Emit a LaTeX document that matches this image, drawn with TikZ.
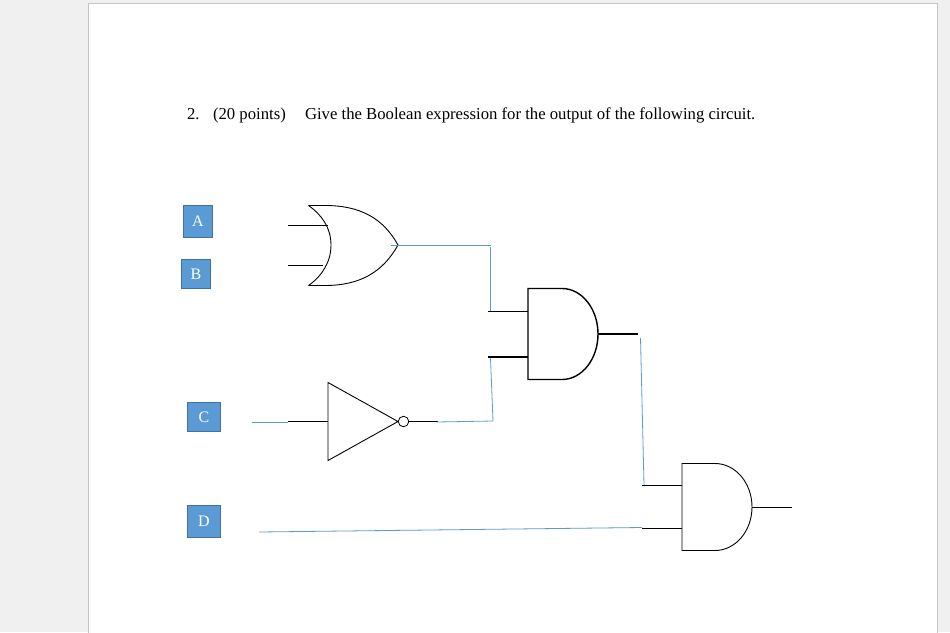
\documentclass[tikz,border=0pt]{standalone}
\usepackage{fontspec}
\setmainfont{Liberation Serif}
\usepackage{tikz}
\definecolor{pagegray}{HTML}{F0F0F0}
\definecolor{pageedge}{HTML}{C6C6C6}
\definecolor{boxblue}{HTML}{5B9BD5}
\definecolor{boxedge}{HTML}{41719C}
\begin{document}
\begin{tikzpicture}[x=1pt, y=-1pt, line join=miter]
\tikzstyle{every node} = [inner sep=0pt, outer sep=0pt]
\tikzstyle{inbox} = [draw=boxedge, fill=boxblue, text=white, font=\fontsize{16}{16}\selectfont, line width=.8pt]
\tikzstyle{wire} = [line width=.9pt, black]
\tikzstyle{bluewire} = [line width=.8pt, boxblue]
\tikzstyle{gate} = [line width=.9pt, black]
\tikzstyle{headline} = [anchor=base west, font=\fontsize{16.7}{16.7}\selectfont, text=black]
\useasboundingbox (0,0) rectangle (950,632);
\fill[pagegray] (0,0) rectangle (950,632);
\filldraw[fill=white, draw=pageedge, line width=1pt] (88.5,640) -- (88.5,3.5) -- (937.5,3.5) -- (937.5,640);
% question
\node[headline] (num) at (187,119) {2.};
\node[headline] (pts) at (213,119) {(20 points)};
\node[headline] (ask) at (305,119) {Give the Boolean expression for the output of the following circuit.};
% input boxes
\node[inbox, minimum width=29pt, minimum height=32pt] (A) at (198,221.5) {A};
\node[inbox, minimum width=29pt, minimum height=29pt] (B) at (196,274) {B};
\node[inbox, minimum width=33pt, minimum height=29pt] (C) at (204,417) {C};
\node[inbox, minimum width=33pt, minimum height=32pt] (D) at (204,521) {D};
% pins
\coordinate (ora) at (288,225);
\coordinate (orae) at (328,225);
\coordinate (orb) at (288,265);
\coordinate (orbe) at (323,265);
\coordinate (ortl) at (308.5,205.5);
\coordinate (orbl) at (308.5,285.5);
\coordinate (orout) at (398,245);
\coordinate (orbk) at (391,245);
\coordinate (orc) at (490.5,245);
\coordinate (and1a) at (488,311.5);
\coordinate (and1b) at (488,357);
\coordinate (and1ae) at (528,311.5);
\coordinate (and1be) at (528,357);
\coordinate (and1in) at (490.5,311);
\coordinate (and1up) at (490.5,247);
\coordinate (and1lo) at (490.5,358);
\coordinate (invc) at (493,421);
\coordinate (invr) at (437,422);
\coordinate (and1out) at (598,334);
\coordinate (and1e) at (638,334);
\coordinate (invin) at (288,421.5);
\coordinate (invl) at (328,421.5);
\coordinate (cfree) at (252,422.5);
\coordinate (cend) at (288,422.5);
\coordinate (inve) at (438,421.5);
\coordinate (and2a) at (642,485);
\coordinate (and2b) at (642,528.5);
\coordinate (and2ae) at (682,485);
\coordinate (and2be) at (682,528.5);
\coordinate (m1) at (640.5,338);
\coordinate (m2) at (644,485);
\coordinate (dfree) at (259,532);
\coordinate (dend) at (642,527.5);
\coordinate (and2out) at (752,507);
\coordinate (and2e) at (792,507);
% or gate
\draw[gate] (ortl) .. controls (322,215) and (331,228) .. (331,245) .. controls (331,262) and (322,276) .. (orbl);
\draw[gate] (ortl) -- (325,205.5) .. controls (360,205.5) and (383,218) .. (orout) .. controls (383,272) and (360,285.5) .. (325,285.5) -- (orbl);
\draw[wire] (ora) -- (orae);
\draw[wire] (orb) -- (orbe);
% first and gate
\draw[gate, line width=1.4pt] (528,288.5) -- (562,288.5) arc (-90:90:36 and 45.5) -- (528,379.5) -- cycle;
\draw[wire, line width=1.4pt] (and1a) -- (and1ae);
\draw[wire, line width=1.4pt] (and1b) -- (and1be);
\draw[wire, line width=1.2pt] (and1out) -- (and1e);
% inverter
\node[draw, circle, fill=white, line width=.8pt, minimum size=10.5pt] (bub) at (403.5,421.5) {};
\draw[gate] (328,382.5) -- (398,421.5) -- (328,460.5) -- cycle;
\draw[wire] (invin) -- (invl);
\draw[wire] (bub) -- (inve);
% second and gate
\draw[gate] (682,463.5) -- (715,463.5) arc (-90:90:37 and 43.5) -- (682,550.5) -- cycle;
\draw[wire] (and2a) -- (and2ae);
\draw[wire] (and2b) -- (and2be);
\draw[wire] (and2out) -- (and2e);
% blue wires
\draw[bluewire] (orbk) -- (orc);
\draw[bluewire] (and1up) -- (and1in);
\draw[bluewire] (and1lo) -- (invc) -- (invr);
\draw[bluewire] (cfree) -- (cend);
\draw[bluewire] (m1) -- (m2);
\draw[bluewire] (dfree) -- (dend);
\end{tikzpicture}
\end{document}
